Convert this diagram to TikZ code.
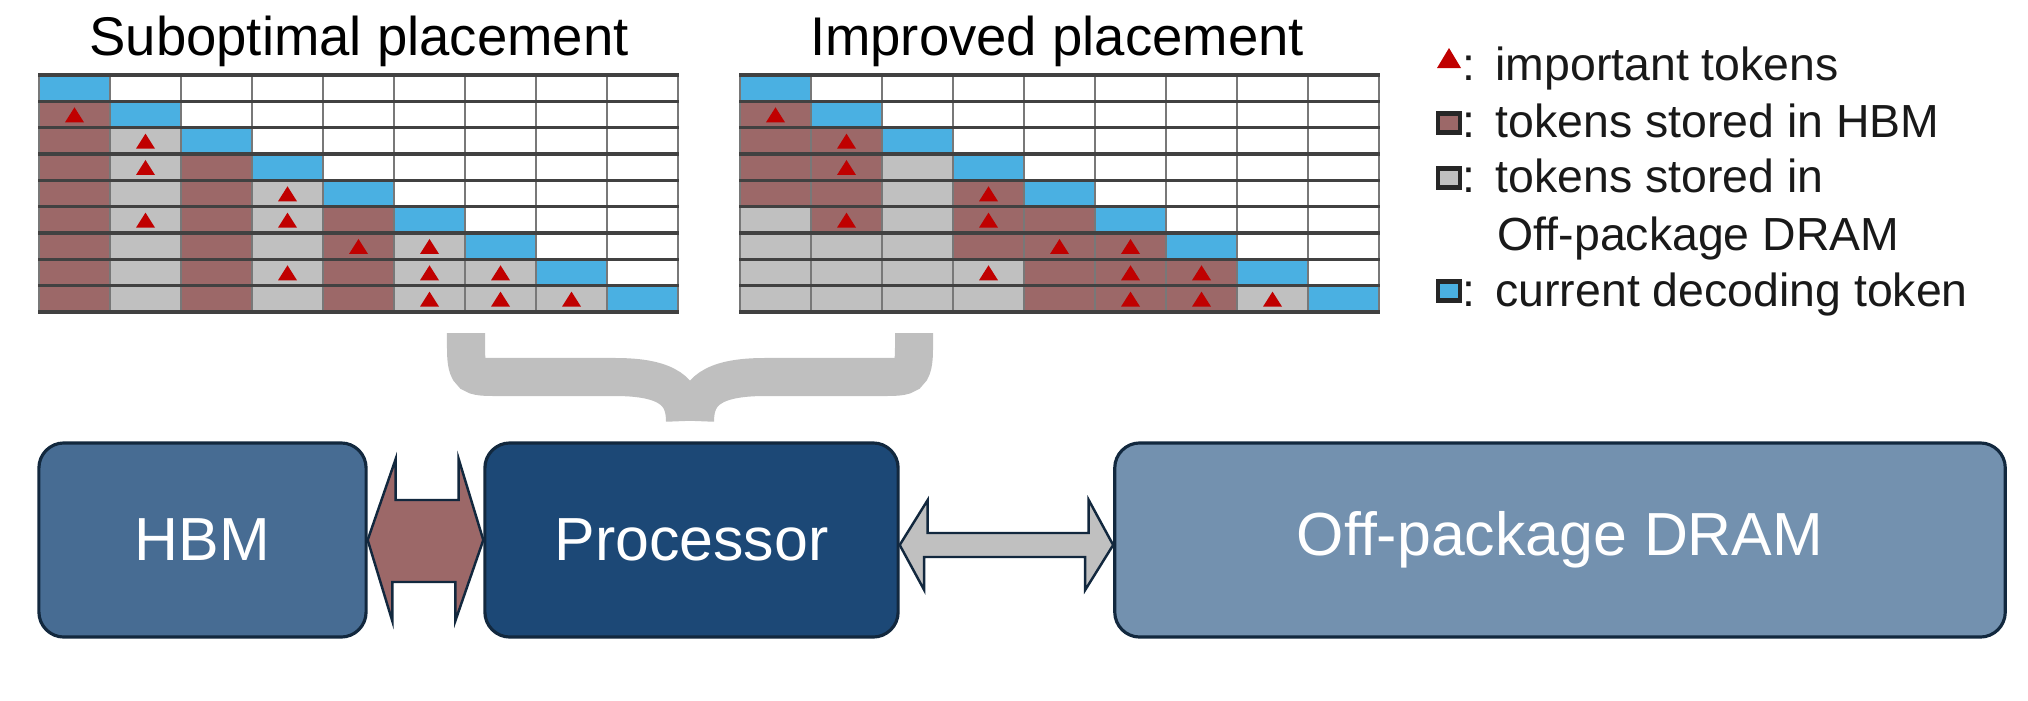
\documentclass[tikz,border=0pt]{standalone}
\usepackage{fontspec}
\setmainfont{Liberation Sans}
\usetikzlibrary{calc}
\definecolor{cB}{RGB}{74,176,226}
\definecolor{cH}{RGB}{156,104,104}
\definecolor{cG}{RGB}{192,192,192}
\definecolor{cW}{RGB}{255,255,255}
\definecolor{trired}{RGB}{192,0,0}
\definecolor{hline}{RGB}{65,65,65}
\definecolor{vline}{RGB}{120,120,120}
\definecolor{hbmc}{RGB}{71,108,147}
\definecolor{procc}{RGB}{28,72,118}
\definecolor{dramc}{RGB}{115,145,175}
\definecolor{edgec}{RGB}{18,40,62}
\definecolor{bracec}{RGB}{191,191,191}
\definecolor{legtxt}{RGB}{25,25,25}
\newcommand\tokgrid[2]{%
  \foreach \row [count=\r from 0] in {#2} {
    \foreach \t [count=\c from 0] in \row {
      \fill[fill=c\t] ({#1+\c*71},{75+\r*26.33}) rectangle ++(71,26.33);
    }
  }
  \foreach \i in {0,...,9} {
    \draw[vline, line width=0.75pt] ({#1+\i*71},75) -- ++(0,237);
  }
  \foreach \i in {0,...,9} {
    \draw[hline, line width=0.9pt] ({#1-1},{75+\i*26.33}) -- ++(641,0);
  }
  \foreach \r/\c in {1/0,2/1,3/1,4/3,5/1,5/3,6/4,6/5,7/3,7/5,7/6,8/5,8/6,8/7} {
    \fill[trired] ({#1+\c*71+35.5-9.5},{75+\r*26.33+21}) -- ++(19,0) -- ++(-9.5,-15) -- cycle;
  }
}
\begin{document}
\begin{tikzpicture}[x=0.01cm,y=-0.01cm,
  box/.style={draw=edgec, line width=0.9pt, rounded corners=0.25cm, minimum height=1.94cm,
    text=white, font=\fontsize{17.3}{20}\selectfont, inner sep=0pt},
  title/.style={font=\fontsize{15.5}{18}\selectfont, inner sep=0pt, anchor=base},
  legtext/.style={font=\fontsize{13.2}{15}\selectfont, text=legtxt, inner sep=0pt, anchor=base west},
  legbox/.style={draw=black!85, line width=1.4pt, minimum width=0.22cm, minimum height=0.19cm, inner sep=0pt},
  blockarrow/.style={draw=edgec, line width=0.7pt, line join=miter},
  bracestroke/.style={draw=bracec, line width=0.38cm, line cap=butt}
]
\useasboundingbox (0,0) rectangle (2028,700);

% titles
\node[title] (t1) at (359,55) {Suboptimal placement};
\node[title] (t2) at (1057,55) {Improved placement};

% grids
\tokgrid{39}{{B,W,W,W,W,W,W,W,W},{H,B,W,W,W,W,W,W,W},{H,G,B,W,W,W,W,W,W},{H,G,H,B,W,W,W,W,W},{H,G,H,G,B,W,W,W,W},{H,G,H,G,H,B,W,W,W},{H,G,H,G,H,G,B,W,W},{H,G,H,G,H,G,G,B,W},{H,G,H,G,H,G,G,G,B}}
\tokgrid{740}{{B,W,W,W,W,W,W,W,W},{H,B,W,W,W,W,W,W,W},{H,H,B,W,W,W,W,W,W},{H,H,G,B,W,W,W,W,W},{H,H,G,H,B,W,W,W,W},{G,H,G,H,H,B,W,W,W},{G,G,G,H,H,H,B,W,W},{G,G,G,G,H,H,H,B,W},{G,G,G,G,H,H,H,G,B}}

% legend
\fill[trired] (1437,68) -- (1461,68) -- (1449,48) -- cycle;
\node[legbox, fill=cH] (l2) at (1449,123) {};
\node[legbox, fill=cG] (l3) at (1449,178) {};
\node[legbox, fill=cB] (l5) at (1449,291) {};
\node[legtext] (lt1) at (1462,80) {:\kern0.07cm\ important tokens};
\node[legtext] (lt2) at (1462,137) {:\kern0.07cm\ tokens stored in HBM};
\node[legtext] (lt3) at (1462,192) {:\kern0.07cm\ tokens stored in};
\node[legtext] (lt4) at (1497,250) {Off-package DRAM};
\node[legtext] (lt5) at (1462,306) {:\kern0.07cm\ current decoding token};

% brace
\draw[bracestroke] (466,333) -- (466,348) .. controls (466,377) and (472,377) .. (498,377) -- (615,377) .. controls (668,377) and (685,392) .. (685,421);
\draw[bracestroke] (914,333) -- (914,348) .. controls (914,377) and (908,377) .. (882,377) -- (765,377) .. controls (712,377) and (695,392) .. (695,421);

% boxes
\node[box, fill=hbmc, minimum width=3.27cm] (hbm) at (202.5,540) {HBM};
\node[box, fill=procc, minimum width=4.13cm] (proc) at (691.5,540) {Processor};
\node[box, fill=dramc, minimum width=8.9cm] (dram) at (1560,540) {Off-package DRAM};

% block arrows
\draw[blockarrow, fill=cH] (hbm.east) -- ++(28,-81) -- ++(0,41) -- ++(63,0) -- ++(0,-41)
  -- (proc.west) -- ++(-28,81) -- ++(0,-39) -- ++(-63,0) -- ++(0,39) -- cycle;
\draw[blockarrow, fill=cG] ($(proc.east)+(0,5)$) -- ++(28,-45) -- ++(0,33) -- ++(161,0) -- ++(0,-33)
  -- ($(dram.west)+(0,5)$) -- ++(-28,45) -- ++(0,-33) -- ++(-161,0) -- ++(0,33) -- cycle;
\end{tikzpicture}
\end{document}
